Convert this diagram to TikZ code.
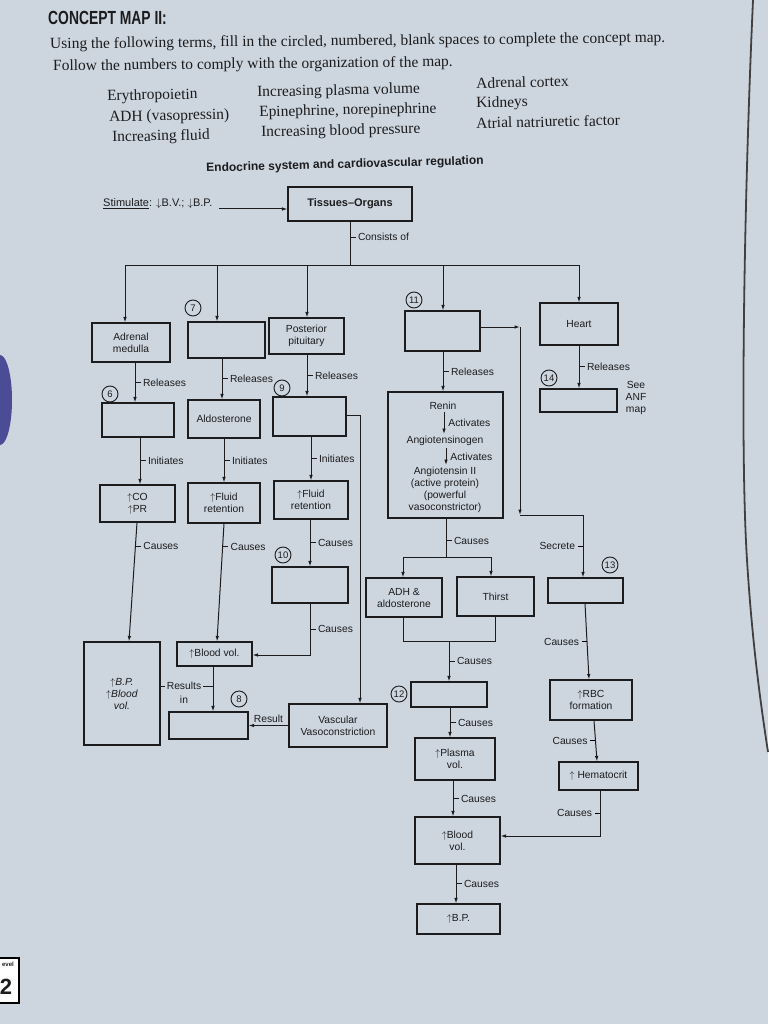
\documentclass[tikz,border=0pt]{standalone}
\usepackage{fontspec}
\setmainfont{Liberation Serif}
\setsansfont{Liberation Sans}
\usetikzlibrary{arrows.meta}
\definecolor{paper}{HTML}{CDD6DF}
\definecolor{ink}{HTML}{1C1C1E}
\definecolor{bruise}{HTML}{4A4C95}
\newcommand\lbtick{\rule[0.32em]{5pt}{0.9pt}}
\begin{document}
\begin{tikzpicture}[x=1pt,y=-1pt,
  font=\sffamily\fontsize{10.3}{12}\selectfont, color=ink,
  box/.style={draw=ink, line width=1.1pt, inner sep=1pt, align=center},
  arr/.style={draw=ink, line width=1pt, -{Latex[length=5.5pt,width=3.6pt]}},
  ln/.style={draw=ink, line width=1pt},
  lab/.style={anchor=west, inner sep=0pt, execute at begin node={\lbtick\hspace{2.5pt}}},
  labl/.style={anchor=east, inner sep=0pt, execute at end node={\hspace{2.5pt}\lbtick}},
  num/.style={circle, draw=ink, line width=0.9pt, minimum size=16pt, inner sep=0pt, font=\sffamily\fontsize{9.5}{9.5}\selectfont},
  instr/.style={anchor=west, inner sep=0pt, rotate=0.6, font=\rmfamily\fontsize{15.5}{15.5}\selectfont},
  term/.style={anchor=west, inner sep=0pt, rotate=1.2, font=\rmfamily\fontsize{15.5}{15.5}\selectfont},
  inner/.style={inner sep=2pt, align=center}]
\fill[paper] (0,0) rectangle (768,1024);
\useasboundingbox (0,0) rectangle (768,1024);

% page decorations
\fill[bruise] (0,400) ellipse (12 and 45);
\draw[line width=1.8pt, black!75] (753,0) .. controls (744,200) and (740,450) .. (747,560) .. controls (752,640) and (760,700) .. (768,752);
\draw[line width=1.5pt, black, fill=white] (-3,958) rectangle (19,1003);
\node[inner sep=0pt, font=\sffamily\bfseries\fontsize{6}{6}\selectfont] (lvl) at (8,964) {evel};
\node[inner sep=0pt, font=\sffamily\bfseries\fontsize{22}{22}\selectfont] (lvltwo) at (6,987) {2};

% heading text
\node[anchor=west, inner sep=0pt, font=\sffamily\bfseries\fontsize{19}{19}\selectfont] (title) at (48,18) {\scalebox{0.73}[1]{CONCEPT MAP II:}};
\node[instr] (ins1) at (50,45) {Using the following terms, fill in the circled, numbered, blank spaces to complete the concept map.};
\node[instr] (ins2) at (53,67) {Follow the numbers to comply with the organization of the map.};
\node[term] (t1) at (107,97) {Erythropoietin};
\node[term] (t2) at (109,118) {ADH (vasopressin)};
\node[term] (t3) at (112,138) {Increasing fluid};
\node[term] (t4) at (257,93) {Increasing plasma volume};
\node[term] (t5) at (259,113) {Epinephrine, norepinephrine};
\node[term] (t6) at (261,133) {Increasing blood pressure};
\node[term] (t7) at (476,83) {Adrenal cortex};
\node[term] (t8) at (476,104) {Kidneys};
\node[term] (t9) at (476,123) {Atrial natriuretic factor};

\node[rotate=1.6, inner sep=0pt, font=\sffamily\bfseries\fontsize{12}{13}\selectfont] (hdr) at (345,165) {Endocrine system and cardiovascular regulation};

% top
\node[anchor=west, inner sep=0pt, font=\sffamily\fontsize{11}{12}\selectfont] (stim) at (103,204) {\underline{Stimulate}: $\downarrow$B.V.; $\downarrow$B.P.};
\node[box, font=\sffamily\bfseries\fontsize{11}{12}\selectfont, minimum width=124, minimum height=34] (tiss) at (350,204) {Tissues–Organs};
\coordinate (stimA) at (219,209);
\draw[arr] (stimA) -- (tiss.west |- stimA);

% boxes
\node[box, minimum width=78, minimum height=39] (adm) at (131,342.5) {Adrenal\\medulla};
\node[box, minimum width=77, minimum height=36] (b7) at (226.5,340) {};
\node[box, minimum width=75, minimum height=36] (pp) at (306.5,336) {Posterior\\pituitary};
\node[box, minimum width=75, minimum height=40] (b11) at (442.5,331) {};
\node[box, minimum width=78, minimum height=42] (heart) at (579,324) {Heart};
\node[box, minimum width=72, minimum height=34] (b6) at (138,420) {};
\node[box, minimum width=72, minimum height=38] (ald) at (224,419) {Aldosterone};
\node[box, minimum width=73, minimum height=39] (b9) at (309.5,416.5) {};
\node[box, minimum width=115, minimum height=126] (renin) at (445.5,455) {};
\node[box, minimum width=77, minimum height=23] (b14) at (578.5,400.5) {};
\node[box, minimum width=75, minimum height=37] (copr) at (137.5,503.5) {$\uparrow$CO\\$\uparrow$PR};
\node[box, minimum width=72, minimum height=40] (fr1) at (224,503) {$\uparrow$Fluid\\retention};
\node[box, minimum width=74, minimum height=38] (fr2) at (311,500) {$\uparrow$Fluid\\retention};
\node[box, minimum width=76, minimum height=36] (b10) at (310,585) {};
\node[box, minimum width=76, minimum height=39] (adh) at (404,597.5) {ADH \&\\aldosterone};
\node[box, minimum width=77, minimum height=39] (thirst) at (495.5,596.5) {Thirst};
\node[box, minimum width=75, minimum height=25] (b13) at (585.5,590.5) {};
\node[box, minimum width=76, minimum height=103] (bpbv) at (122,693.5) {$\uparrow$\textit{B.P.}\\$\uparrow$\textit{Blood}\\\textit{vol.}};
\node[box, minimum width=75, minimum height=24] (bv1) at (214.5,654) {$\uparrow$Blood vol.};
\node[box, minimum width=76, minimum height=25] (b12) at (449,694.5) {};
\node[box, minimum width=82, minimum height=40] (rbc) at (591,700) {$\uparrow$RBC\\formation};
\node[box, minimum width=79, minimum height=27] (b8) at (208.5,725.5) {};
\node[box, minimum width=98, minimum height=43] (vv) at (338,725.5) {Vascular\\Vasoconstriction};
\node[box, minimum width=80, minimum height=42] (plasma) at (455,759) {$\uparrow$Plasma\\vol.};
\node[box, minimum width=79, minimum height=28] (hem) at (598.5,776) {$\uparrow$ Hematocrit};
\node[box, minimum width=85, minimum height=47] (bv2) at (457.5,840.5) {$\uparrow$Blood\\vol.};
\node[box, minimum width=83, minimum height=30] (bp) at (458.5,919) {$\uparrow$B.P.};

% renin box contents
\node[inner] (rn1) at (443,406) {Renin};
\node[inner] (rn2) at (445,441) {Angiotensinogen};
\node[inner] (rn3) at (445,490) {Angiotensin II\\(active protein)\\(powerful\\vasoconstrictor)};
\draw[arr, line width=0.9pt] (rn1.south -| 444,0) -- node[anchor=west, inner sep=0pt, xshift=4pt]{Activates} (rn2.north -| 444,0);
\draw[arr, line width=0.9pt] (rn2.south -| 446,0) -- node[anchor=west, inner sep=0pt, xshift=4pt]{Activates} (rn3.north -| 446,0);

% numbers
\node[num] (n6) at (110,394) {6};
\node[num] (n7) at (193,308) {7};
\node[num] (n8) at (239,699) {8};
\node[num] (n9) at (282,388) {9};
\node[num] (n10) at (283,555) {10};
\node[num] (n11) at (414,300) {11};
\node[num] (n12) at (399,694) {12};
\node[num] (n13) at (610,565) {13};
\node[num] (n14) at (549,378) {14};

\node[align=center, inner sep=0pt] (see) at (636,398) {See\\ANF\\map};

% trunk and bus
\coordinate (tb) at (350,265);
\draw[ln] (tiss.south) -- node[lab, pos=0.36]{Consists of} (tb);
\coordinate (j1) at (125,265);
\coordinate (j2) at (217,265);
\coordinate (j3) at (307,265);
\coordinate (j4) at (443,265);
\coordinate (j5) at (579,265);
\draw[ln] (j1) -- (j5);
\draw[arr] (j1) -- (adm.north -| j1);
\draw[arr] (j2) -- (b7.north -| j2);
\draw[arr] (j3) -- (pp.north -| j3);
\draw[arr] (j4) -- (b11.north -| j4);
\draw[arr] (j5) -- (heart.north -| j5);

% column 1
\draw[arr] (adm.south -| 135,0) -- node[lab]{Releases} (b6.north -| 135,0);
\draw[arr] (b6.south -| 140,0) -- node[lab]{Initiates} (copr.north -| 140,0);
\draw[arr] (copr.south -| 137,0) -- node[lab, pos=0.2]{Causes} (bpbv.north -| 129,0);

% column 2
\draw[arr] (b7.south -| 222,0) -- node[lab]{Releases} (ald.north -| 222,0);
\draw[arr] (ald.south -| 224,0) -- node[lab]{Initiates} (fr1.north -| 224,0);
\draw[arr] (fr1.south -| 224,0) -- node[lab, pos=0.2]{Causes} (bv1.north -| 217,0);
\draw[arr] (bv1.south -| 213,0) -- (b8.north -| 213,0);
\node[inner sep=0pt] (res1) at (184,686) {Results};
\node[inner sep=0pt] (res2) at (184,700) {in};
\coordinate (resj) at (213,686);
\draw[ln] (bpbv.east |- res1) -- ([xshift=-2pt]res1.west);
\draw[ln] ([xshift=2pt]res1.east) -- (resj);

% column 3
\draw[arr] (pp.south -| 307,0) -- node[lab]{Releases} (b9.north -| 307,0);
\draw[arr] (b9.south -| 311,0) -- node[lab]{Initiates} (fr2.north -| 311,0);
\draw[arr] (fr2.south -| 310,0) -- node[lab]{Causes} (b10.north -| 310,0);
\coordinate (c10) at (310,655);
\draw[arr] (b10.south -| c10) -- node[lab]{Causes} (c10) -- (bv1.east |- c10);
\coordinate (c9) at (360,415);
\draw[arr] (b9.east |- c9) -- (c9) -- (vv.north -| c9);
\draw[arr] (vv.west) -- node[above=2pt, inner sep=0pt] (rslt) {Result} (b8.east);

% column 4
\draw[arr] (b11.south -| 443,0) -- node[lab]{Releases} (renin.north -| 443,0);
\coordinate (ca) at (446,557);
\coordinate (cl) at (403,557);
\coordinate (cr) at (491,557);
\draw[ln] (renin.south -| ca) -- node[lab, pos=0.58]{Causes} (ca);
\draw[ln] (cl) -- (cr);
\draw[arr] (cl) -- (adh.north -| cl);
\draw[arr] (cr) -- (thirst.north -| cr);
\coordinate (cb1) at (403,641);
\coordinate (cb2) at (495,641);
\coordinate (cbm) at (449,641);
\draw[ln] (adh.south -| cb1) -- (cb1) -- (cb2) -- (thirst.south -| cb2);
\draw[arr] (cbm) -- node[lab]{Causes} (b12.north -| cbm);
\draw[arr] (b12.south -| 450,0) -- node[lab]{Causes} (plasma.north -| 450,0);
\draw[arr] (plasma.south -| 453,0) -- node[lab]{Causes} (bv2.north -| 453,0);
\draw[arr] (bv2.south -| 456,0) -- node[lab]{Causes} (bp.north -| 456,0);

% right column
\draw[arr] (heart.south) -- node[lab]{Releases} (b14.north -| heart.south);
\coordinate (k1) at (520,327);
\coordinate (k2) at (520,515);
\coordinate (k3) at (583,515);
\draw[arr] (b11.east |- k1) -- (k1);
\draw[arr] (k1) -- (k2);
\draw[arr] (k2) -- (k3) -- node[labl]{Secrete} (b13.north -| k3);
\draw[arr] (b13.south -| 585,0) -- node[labl]{Causes} (rbc.north -| 589,0);
\draw[arr] (rbc.south -| 594,0) -- node[labl]{Causes} (hem.north -| 597,0);
\coordinate (kh) at (600,836);
\draw[arr] (hem.south -| kh) -- node[labl]{Causes} (kh) -- (bv2.east |- kh);
\end{tikzpicture}
\end{document}
